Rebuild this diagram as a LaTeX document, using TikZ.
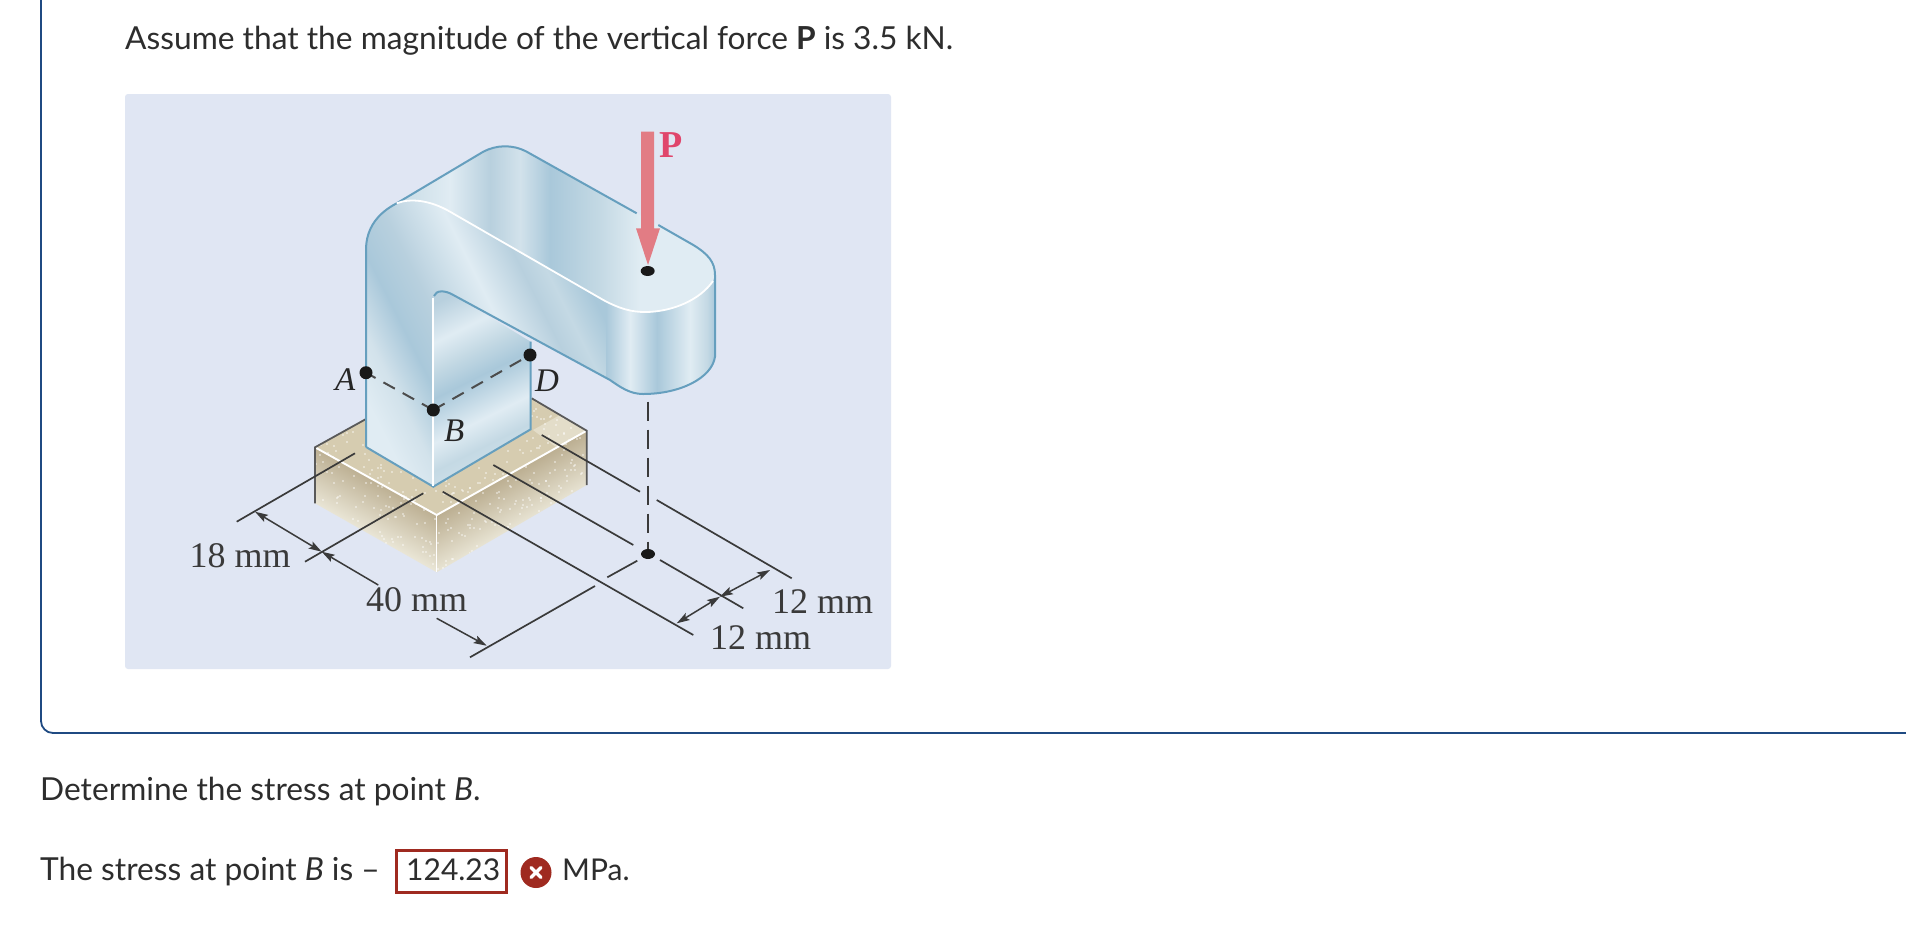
\documentclass[tikz,border=0pt]{standalone}
\usepackage{fontspec}
\setmainfont{Lato}
\newfontfamily\figfont{Liberation Serif}
\usetikzlibrary{arrows.meta}
\definecolor{panelbg}{HTML}{E0E6F3}
\definecolor{frameblue}{HTML}{1F4A82}
\definecolor{bodytext}{HTML}{2D2D2D}
\definecolor{wrongred}{HTML}{9F2A20}
\definecolor{outl}{HTML}{669FBE}
\definecolor{dimdark}{HTML}{3A3A3A}
\definecolor{arrowred}{HTML}{E27C84}
\definecolor{pred}{HTML}{E0466C}
\definecolor{ba}{HTML}{A9C8DA}
\definecolor{bb}{HTML}{B8D0DE}
\definecolor{bc}{HTML}{C4D9E4}
\definecolor{bd}{HTML}{D2E2EB}
\definecolor{be}{HTML}{E0ECF3}
\definecolor{tanA}{HTML}{BCAF92}
\definecolor{tanB}{HTML}{E9E5D5}
\definecolor{tanC}{HTML}{D6CCB0}
\pgfdeclarehorizontalshading{topbands}{100bp}{color(0bp)=(bc);color(34bp)=(bc);color(40bp)=(be);color(44bp)=(bb);color(47bp)=(bd);color(50bp)=(ba);color(55bp)=(bc);color(59bp)=(be);color(100bp)=(be)}
\pgfdeclarehorizontalshading{frontbands}{100bp}{color(0bp)=(be);color(38bp)=(be);color(41bp)=(bd);color(44.5bp)=(ba);color(48bp)=(bb);color(53.4bp)=(be);color(57.8bp)=(bb);color(60bp)=(bc);color(63bp)=(ba);color(100bp)=(bb)}
\pgfdeclarehorizontalshading{colbands}{100bp}{color(0bp)=(bb);color(42bp)=(bb);color(45.5bp)=(be);color(48bp)=(bc);color(50.5bp)=(ba);color(54.5bp)=(be);color(57bp)=(bc);color(60bp)=(bd);color(100bp)=(bd)}
\pgfdeclarehorizontalshading{endbands}{100bp}{color(0bp)=(ba);color(50.6bp)=(ba);color(53bp)=(be);color(55.7bp)=(ba);color(59bp)=(be);color(60.7bp)=(bc);color(61.5bp)=(ba);color(100bp)=(ba)}
\pgfdeclarehorizontalshading{tanbands}{100bp}{color(0bp)=(tanA);color(47.5bp)=(tanA);color(52.5bp)=(tanB);color(100bp)=(tanB)}
\tikzset{
  bodyfont/.style={font=\fontsize{31.7}{31.7}\selectfont,text=bodytext,anchor=base west,inner sep=0pt},
  figlabel/.style={font=\figfont\fontsize{36}{36}\selectfont,text=dimdark,anchor=base west,inner sep=0pt},
  figit/.style={font=\figfont\itshape\fontsize{33}{33}\selectfont,text=black!85,anchor=base west,inner sep=0pt},
  dimline/.style={draw=dimdark,line width=1.7pt},
  dimarrow/.style={draw=dimdark,line width=1.5pt},
  dotblack/.style={fill=black!90,draw=none},
  tip/.tip={Stealth[length=13pt,width=8pt,inset=2.5pt]},
}
\newcommand{\bandfill}[4]{\shade[shading=#4,shading angle=#3] ({#1-250},{#2-250}) rectangle ({#1+250},{#2+250});}
\begin{document}
\begin{tikzpicture}[x=1pt,y=-1pt]
\useasboundingbox (0,0) rectangle (1906,940);
\fill[white] (0,0) rectangle (1906,940);
% frame
\draw[frameblue,line width=1.8pt,rounded corners=12pt] (41,-20) -- (41,733) -- (1930,733);
% panel
\fill[panelbg,rounded corners=3pt] (125,94) rectangle (891,669);
% text
\node[bodyfont] (q1) at (125,49) {Assume that the magnitude of the vertical force \textbf{P} is 3.5 kN.};
\node[bodyfont] (q2) at (40,800) {Determine the stress at point \textit{B}.};
\node[bodyfont] (q3) at (40,880) {The stress at point \textit{B} is –};
\node[draw=wrongred,line width=2.2pt,minimum width=110pt,minimum height=42pt,inner sep=0pt] (ans) at (451.5,871.5) {};
\node[bodyfont,font=\fontsize{30}{30}\selectfont] (val) at (406,880) {124.23};
\node[circle,fill=wrongred,minimum size=31pt,inner sep=0pt] (icon) at (536,872.5) {};
\draw[white,line width=3.4pt,line cap=round] (531,867.5) -- (541,877.5) (541,867.5) -- (531,877.5);
\node[bodyfont,font=\fontsize{30}{30}\selectfont] (mpa) at (562,880) {MPa.};
% ---------- concrete block
\coordinate (bl) at (315,447.3);
\coordinate (bf) at (436.7,515);
\coordinate (br) at (586.7,430.7);
\coordinate (bbk) at (531.7,398.3);
\coordinate (bbl) at (366,419);
\coordinate (cl) at (315,503.3);
\coordinate (cf) at (436.7,572.3);
\coordinate (cr) at (586.7,485);
\fill[tanC] (bl) -- (bbl) -- (bbk) -- (br) -- (bf) -- cycle;
\fill[tanB,opacity=.7] (533,430) -- (560,415) -- (586.7,430.7) -- (556,447) -- cycle;
\begin{scope}
\clip (bl) -- (bf) -- (cf) -- (cl) -- cycle;
\bandfill{376}{509}{-119}{tanbands}
\end{scope}
\begin{scope}
\clip (bf) -- (br) -- (cr) -- (cf) -- cycle;
\bandfill{512}{502}{-60.6}{tanbands}
\end{scope}
\begin{scope}
\clip (bl) -- (bbl) -- (bbk) -- (br) -- (cr) -- (cf) -- (cl) -- cycle;
\pgfmathsetseed{11}
\foreach \i in {1,...,520}{
  \pgfmathsetmacro{\dx}{random(315,587)}
  \pgfmathsetmacro{\dy}{random(398,572)}
  \fill[white,opacity=.8] (\dx,\dy) circle (.95pt);
}
\end{scope}
\draw[white,line width=1.9pt] (bl) -- (bf) -- (br);
\draw[white,line width=1.4pt] (bf) -- (cf);
\draw[black!65,line width=1.8pt] (cl) -- (bl) -- (bbl);
\draw[black!65,line width=1.8pt] (bbk) -- (br) -- (cr);
% ---------- metal member: top face
\begin{scope}
\clip (396.7,203.3) -- (483.3,151.7) .. controls (496,145) and (512,144) .. (526.7,151.7) -- (693.3,245) .. controls (708,254) and (715,262) .. (715,275) -- (713,281) .. controls (700,300) and (672,312) .. (645,312) .. controls (632,312) and (620,309) .. (603.3,300) -- (450,211.7) .. controls (430,200) and (410,198) .. (396.7,203.3) -- cycle;
\bandfill{550}{230}{0}{topbands}
\end{scope}
% front of arm and left column face
\begin{scope}
\clip (366,447) -- (366,250) .. controls (366,228) and (378,213) .. (396.7,203.3) .. controls (410,198) and (430,200) .. (450,211.7) -- (603.3,300) .. controls (620,309) and (632,312) .. (645,312) .. controls (672,312) and (700,300) .. (713,281) -- (715,275) -- (715,356.7) .. controls (712,378) and (680,394) .. (643,394) .. controls (630,394) and (620,387) .. (610,380) -- (453.3,295) .. controls (445,290) and (433,290) .. (433.3,300) -- (433.3,486.7) -- cycle;
\bandfill{450}{300}{26.6}{frontbands}
\clip (606,270) rectangle (720,400);
\bandfill{600}{330}{0}{endbands}
\end{scope}
% right column face
\begin{scope}
\clip (433.3,300) .. controls (433,290) and (445,290) .. (453.3,295) -- (530.7,341.7) -- (530.7,429.3) -- (433.3,486.7) -- cycle;
\bandfill{480}{370}{-63.4}{colbands}
\end{scope}
% outlines
\draw[outl,line width=2pt] (366,447) -- (366,250) .. controls (366,228) and (378,213) .. (396.7,203.3) -- (483.3,151.7) .. controls (496,145) and (512,144) .. (526.7,151.7) -- (636.7,213.3);
\draw[outl,line width=2pt] (658.3,225) -- (693.3,245) .. controls (708,254) and (715,262) .. (715,275) -- (715,356.7) .. controls (712,378) and (680,394) .. (643,394) .. controls (630,394) and (620,387) .. (610,380) -- (453.3,295) .. controls (445,290) and (436,290) .. (434,296);
\draw[outl,line width=2pt] (530.7,341.7) -- (530.7,429.3) -- (433.3,486.7) -- (366,447);
\draw[white,line width=1.8pt] (396.7,203.3) .. controls (410,198) and (430,200) .. (450,211.7) -- (603.3,300) .. controls (620,309) and (632,312) .. (645,312) .. controls (672,312) and (700,300) .. (713,281);
\draw[white,line width=1.7pt] (433.3,298) -- (433.3,486);
% ---------- dimension lines
\coordinate (a1) at (355,453.3); \coordinate (a2) at (236.7,521.7);
\coordinate (b1) at (423.3,493.3); \coordinate (b2) at (305,561.7);
\draw[dimline] (a1) -- (a2);
\draw[dimline] (b1) -- (b2);
\coordinate (d18a) at (255,511.7); \coordinate (d18b) at (321.7,551.7);
\coordinate (d40a) at (378.3,585); \coordinate (d40b) at (436.7,618.3); \coordinate (d40c) at (486.7,645.7);
\draw[dimarrow,{tip}-{tip}] (d18a) -- (d18b);
\draw[dimarrow,{tip}-] (d18b) -- (d40a);
\draw[dimarrow,-{tip}] (d40b) -- (d40c);
\coordinate (e1) at (470,657.3); \coordinate (e2) at (595,586); \coordinate (e3) at (607.3,577.3); \coordinate (e4) at (637.3,560.7);
\draw[dimline] (e1) -- (e2);
\draw[dimline] (e3) -- (e4);
\coordinate (f1) at (442.7,491.7); \coordinate (f2) at (693.3,635);
\draw[dimline] (f1) -- (f2);
\coordinate (g1) at (493.3,465); \coordinate (g2) at (633.3,545); \coordinate (g3) at (660,560); \coordinate (g4) at (743.3,608.3);
\draw[dimline] (g1) -- (g2);
\draw[dimline] (g3) -- (g4);
\coordinate (h1) at (541.7,435); \coordinate (h2) at (640,491.7); \coordinate (h3) at (656.7,500); \coordinate (h4) at (791.7,578.3);
\draw[dimline] (h1) -- (h2);
\draw[dimline] (h3) -- (h4);
\coordinate (m1) at (676.7,623.3); \coordinate (m2) at (720,596.7); \coordinate (m3) at (770,570);
\draw[dimarrow,{tip}-{tip}] (m1) -- (m2);
\draw[dimarrow,{tip}-{tip}] (m2) -- (m3);
% vertical dashed
\coordinate (v1) at (648.3,401.7);
\draw[dimline,dash pattern=on 19pt off 9pt] (v1) -- (648.3,553);
\fill[dotblack] (648,554) ellipse (7pt and 5pt);
% dashed section
\coordinate (pA) at (366,372.7);
\coordinate (pB) at (433.3,410);
\coordinate (pD) at (530,355);
\draw[black!70,line width=2pt,dash pattern=on 13pt off 9pt] (pB) -- (pA);
\draw[black!70,line width=2pt,dash pattern=on 13pt off 9pt] (pB) -- (pD);
\fill[dotblack] (pA) circle (6.5pt);
\fill[dotblack] (pB) circle (6.5pt);
\fill[dotblack] (pD) circle (6.5pt);
% force arrow
\fill[arrowred] (641,131.7) -- (654,131.7) -- (654,228.3) -- (660,228.3) -- (648,265) -- (636,228.3) -- (641,228.3) -- cycle;
\fill[dotblack] (647.7,271) ellipse (7pt and 5pt);
% labels
\node[font=\figfont\bfseries\fontsize{38}{38}\selectfont,text=pred,anchor=base west,inner sep=0pt] (lP) at (659,157.7) {P};
\node[figit] (lA) at (335,390) {A};
\node[figit] (lB) at (444,441.7) {B};
\node[figit] (lD) at (535,391.7) {D};
\node[figlabel] (l18) at (189.5,567) {18 mm};
\node[figlabel] (l40) at (366,611.7) {40 mm};
\node[figlabel] (l12a) at (772,613) {12 mm};
\node[figlabel] (l12b) at (710,649) {12 mm};
\end{tikzpicture}
\end{document}
